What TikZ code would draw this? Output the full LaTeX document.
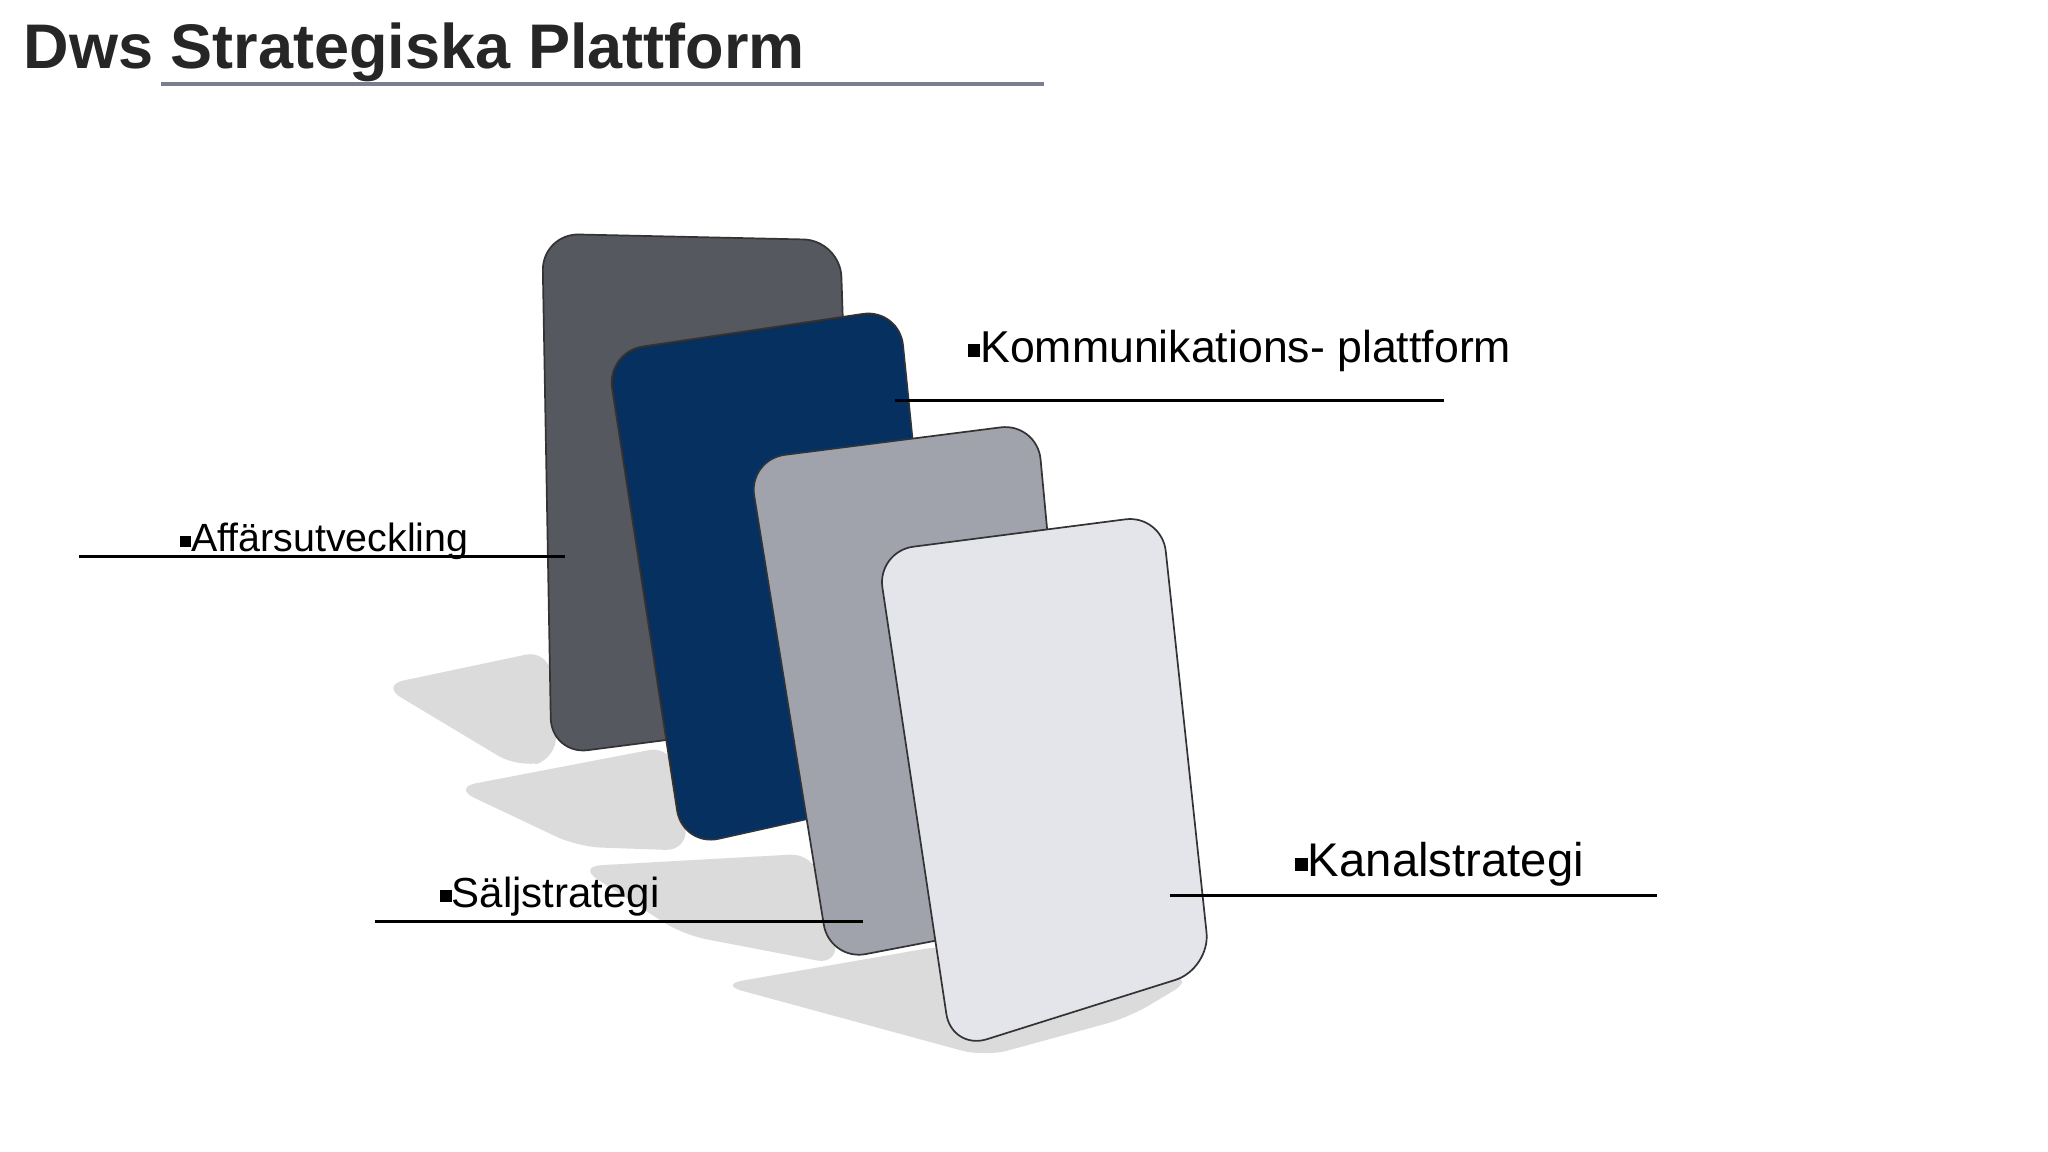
\documentclass[tikz,border=0pt]{standalone}
\usepackage{fontspec}
\setmainfont{Liberation Sans}
\begin{document}
\newcommand{\sqb}{\rule[0.12em]{0.28em}{0.28em}}
\begin{tikzpicture}[x=1pt,y=-1pt,
  card/.style={draw=black!80,line width=1.3pt,rounded corners=28pt},
  shad/.style={fill=black!25,opacity=0.55,rounded corners=18pt},
  lbl/.style={anchor=base west,inner sep=0pt},
  rule/.style={line width=2.2pt}]
\useasboundingbox (0,0) rectangle (1560,877.5);
\fill[white] (0,0) rectangle (1560,877.5);
% title
\node[lbl,font=\bfseries\fontsize{48}{50}\selectfont,text=black!85] (title) at (18,52) {Dws Strategiska Plattform};
\draw[line width=2.5pt,color={rgb,255:red,122;green,127;blue,143}] (123,64) coordinate (t1) -- (795,64) coordinate (t2);
% shadows
\fill[shad] (290,522) -- (418,495) -- (425,578) -- (395,585) -- cycle;
\fill[shad] (345,600) -- (512,568) -- (525,648) -- (440,645) -- cycle;
\fill[shad] (440,660) -- (620,650) -- (640,735) -- (520,712) -- cycle;
\fill[shad] (548,750) -- (720,720) -- (910,745) -- (860,775) -- (750,805) -- cycle;
% cards
\draw[card,fill={rgb,255:red,85;green,88;blue,95}] (413,178) coordinate (c1a) -- (640,183) -- (652,545) -- (420,575) -- cycle;
\node (card1) at (530,380) {};
\draw[card,fill={rgb,255:red,6;green,48;blue,95}] (462,268) -- (685,235) -- (722,600) -- (520,645) -- cycle;
\node (card2) at (590,440) {};
\draw[card,fill={rgb,255:red,160;green,163;blue,171}] (570,350) -- (790,322) -- (825,695) -- (632,732) -- cycle;
\node (card3) at (700,530) {};
\draw[card,fill={rgb,255:red,227;green,229;blue,234}] (668,420) -- (885,392) -- (922,738) -- (725,800) -- cycle;
\node (card4) at (795,600) {};
% labels and lines
\node[lbl,font=\fontsize{34}{36}\selectfont] (komm) at (737,276) {\sqb Kommunikations- plattform};
\draw[rule] (682,305) coordinate (k1) -- (1100,305) coordinate (k2);
\node[lbl,font=\fontsize{30}{32}\selectfont] (aff) at (137,420) {\sqb Affärsutveckling};
\draw[rule] (60,424) coordinate (a1) -- (430,424) coordinate (a2);
\node[lbl,font=\fontsize{32}{34}\selectfont] (salj) at (335,691) {\sqb Säljstrategi};
\draw[rule] (286,702) coordinate (s1) -- (657,702) coordinate (s2);
\node[lbl,font=\fontsize{36}{38}\selectfont] (kanal) at (986,668) {\sqb Kanalstrategi};
\draw[rule] (891,682) coordinate (n1) -- (1262,682) coordinate (n2);
\end{tikzpicture}
\end{document}
